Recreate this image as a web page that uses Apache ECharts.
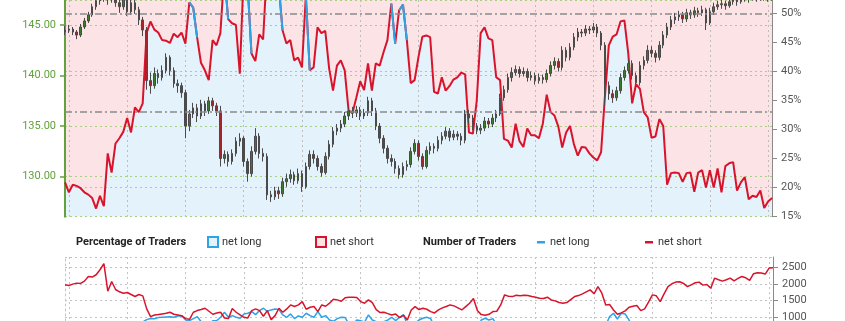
<!DOCTYPE html>
<html><head><meta charset="utf-8">
<script src="https://cdn.jsdelivr.net/npm/echarts@6/dist/echarts.min.js"></script>
<style>html,body{margin:0;padding:0;background:#fff}#c{width:845px;height:321px}</style>
</head><body><div id="c"></div>
<script>
// price candles: [open, close, low, high]
const priceOHLC = [
[144.3,144.5,144.0,144.9],[144.5,144.6,144.2,145.0],[144.6,144.3,144.0,144.8],[144.3,144.0,143.6,144.5],[144.0,144.8,143.8,145.1],
[144.8,145.4,144.6,145.7],[145.4,146.0,145.2,146.3],[146.0,146.8,145.8,147.1],[146.8,147.4,146.5,147.8],[147.4,147.8,147.0,148.3],
[147.8,148.0,147.3,148.4],[148.0,147.5,147.0,148.3],[147.5,148.0,147.2,148.4],[148.0,147.2,146.8,148.2],[147.2,146.8,146.2,147.5],
[146.8,147.5,146.5,147.9],[147.5,146.3,145.9,147.7],[146.3,147.2,146.0,147.6],[147.2,146.5,146.1,147.5],[146.5,145.5,145.0,146.8],
[145.5,144.5,143.9,145.8],[144.5,139.5,138.6,144.8],[139.5,139.0,138.2,140.3],[139.0,140.2,138.7,140.8],[140.2,139.8,139.2,140.6],
[139.8,140.5,139.5,141.0],[140.5,141.8,140.2,142.2],[141.8,140.5,140.0,142.0],[140.5,139.2,138.8,140.8],[139.2,139.0,138.3,139.6],
[139.0,138.3,137.8,139.3],[138.3,135.0,133.8,138.6],[135.0,136.2,134.5,136.6],[136.2,136.8,135.8,137.3],[136.8,136.0,135.4,137.2],
[136.0,137.2,135.7,137.6],[137.2,136.5,136.0,137.5],[136.5,137.5,136.2,137.9],[137.5,137.0,136.5,137.8],[137.0,136.5,136.0,137.3],
[136.5,131.8,131.0,137.0],[131.8,132.2,131.3,132.6],[132.2,131.5,131.0,132.5],[131.5,132.3,131.2,132.7],[132.3,133.5,132.0,133.9],
[133.5,133.8,133.0,134.3],[133.8,131.5,131.0,134.0],[131.5,130.3,129.5,131.8],[130.3,132.5,130.0,133.0],[132.5,134.0,132.2,134.8],
[134.0,132.3,131.8,134.3],[132.3,132.0,131.5,132.8],[132.0,128.2,127.7,132.3],[128.2,128.0,127.5,128.6],[128.0,128.6,127.7,129.0],
[128.6,128.3,127.8,129.0],[128.3,129.5,128.0,129.9],[129.5,129.8,129.0,130.3],[129.8,130.2,129.4,130.7],[130.2,129.6,129.2,130.5],
[129.6,130.3,129.3,130.8],[130.3,129.0,128.5,130.6],[129.0,131.0,128.8,131.4],[131.0,132.2,130.7,132.6],[132.2,131.8,131.3,132.6],
[131.8,131.0,130.6,132.1],[131.0,130.4,130.0,131.3],[130.4,132.0,130.2,132.4],[132.0,133.2,131.7,133.6],[133.2,134.5,132.9,134.9],
[134.5,134.8,134.1,135.2],[134.8,135.2,134.4,135.6],[135.2,136.0,134.9,136.4],[136.0,136.5,135.6,136.9],[136.5,136.3,135.8,136.9],
[136.3,136.6,135.9,137.0],[136.6,136.0,135.6,136.9],[136.0,136.3,135.7,136.7],[136.3,137.5,136.0,137.9],[137.5,136.5,136.0,137.8],
[136.5,135.0,134.6,136.8],[135.0,133.8,133.3,135.3],[133.8,132.8,132.3,134.1],[132.8,131.8,131.3,133.1],[131.8,131.5,131.0,132.2],
[131.5,130.8,130.3,131.8],[130.8,130.2,129.8,131.1],[130.2,131.0,129.9,131.4],[131.0,131.2,130.6,131.6],[131.2,132.5,130.9,132.9],
[132.5,133.3,132.2,133.7],[133.3,132.0,131.6,133.6],[132.0,131.0,130.7,132.3],[131.0,132.6,130.8,133.0],[132.6,133.0,132.2,133.4],
[133.0,132.8,132.3,133.3],[132.8,133.6,132.5,134.0],[133.6,134.0,133.2,134.4],[134.0,134.5,133.7,134.9],[134.5,133.9,133.5,134.8],
[133.9,134.2,133.6,134.6],[134.2,134.0,133.6,134.5],[134.0,133.6,133.1,134.3],[133.6,136.2,133.3,136.6],[136.2,135.8,135.3,136.6],
[135.8,135.0,134.6,136.1],[135.0,134.6,134.2,135.3],[134.6,134.8,134.2,135.2],[134.8,135.5,134.5,135.9],[135.5,135.2,134.8,135.8],
[135.2,135.8,134.9,136.2],[135.8,136.2,135.4,136.6],[136.2,137.8,136.0,138.2],[137.8,138.6,137.5,139.0],[138.6,139.8,138.3,140.2],
[139.8,140.3,139.4,140.8],[140.3,140.6,140.0,141.0],[140.6,140.2,139.8,140.9],[140.2,140.4,139.9,140.8],[140.4,139.8,139.4,140.7],
[139.8,140.0,139.5,140.4],[140.0,139.5,139.1,140.3],[139.5,139.8,139.2,140.2],[139.8,139.6,139.2,140.1],[139.6,140.2,139.3,140.6],
[140.2,141.0,139.9,141.4],[141.0,141.4,140.6,141.8],[141.4,140.8,140.4,141.7],[140.8,142.5,140.5,142.9],[142.5,141.8,141.4,142.8],
[141.8,142.8,141.5,143.2],[142.8,143.8,142.5,144.2],[143.8,144.3,143.4,144.7],[144.3,144.2,143.8,144.6],[144.2,144.6,143.9,145.0],
[144.6,144.5,144.1,144.9],[144.5,144.8,144.2,145.2],[144.8,144.2,143.8,145.1],[144.2,143.0,142.5,144.4],[143.0,139.0,137.0,143.3],
[139.0,138.2,137.6,139.4],[138.2,137.8,137.3,138.6],[137.8,138.5,137.5,138.9],[138.5,139.8,138.2,140.2],[139.8,140.5,139.5,140.9],
[140.5,141.2,140.2,141.6],[141.2,140.0,139.6,141.5],[140.0,139.3,138.6,140.3],[139.3,141.0,139.0,141.4],[141.0,141.5,140.6,141.9],
[141.5,142.5,141.2,143.0],[142.5,142.2,141.8,142.9],[142.2,141.8,141.3,142.5],[141.8,143.0,141.5,143.4],[143.0,144.0,142.7,144.4],
[144.0,144.8,143.7,145.2],[144.8,145.5,144.5,145.9],[145.5,145.8,145.1,146.2],[145.8,146.0,145.4,146.4],[146.0,145.6,145.2,146.3],
[145.6,146.2,145.3,146.6],[146.2,146.0,145.6,146.5],[146.0,146.4,145.7,146.8],[146.4,146.2,145.8,146.7],[146.2,146.5,145.9,146.9],
[146.5,145.2,144.5,146.7],[145.2,146.3,145.0,146.7],[146.3,146.8,146.0,147.2],[146.8,147.0,146.5,147.4],[147.0,147.1,146.6,147.5],
[147.1,146.9,146.5,147.4],[146.9,147.3,146.7,147.7],[147.3,147.5,147.0,147.9],[147.5,147.3,146.9,147.8],[147.3,147.6,147.1,148.0],
[147.6,147.8,147.3,148.2],[147.8,147.6,147.2,148.1],[147.6,147.9,147.4,148.3],[147.9,147.7,147.3,148.2],[147.7,148.0,147.4,148.4],
[148.0,147.8,147.4,148.3],[147.8,147.6,147.3,148.1],[147.6,147.9,147.4,148.3]
];
// percentage of traders net long (%)
const pctLong = [
20.9,19.2,20.5,20.3,19.9,19.2,18.8,18.2,16.4,18.6,16.8,25.9,22.6,27.6,28.5,29.6,32.0,29.5,33.8,33.0,
34.5,46.6,48.6,47.2,46.7,45.4,45.3,44.9,46.5,45.9,46.7,44.8,51.9,51.0,45.9,41.5,40.2,38.5,45.4,44.5,
46.6,57.0,49.0,48.3,48.0,39.6,57.0,55.0,43.1,41.8,46.4,45.5,58.0,57.0,57.0,55.0,47.1,44.8,45.4,41.9,
42.4,40.7,53.0,40.2,40.7,47.6,46.6,47.0,40.5,36.7,41.0,41.9,40.2,33.3,32.8,35.5,38.3,36.8,41.4,36.7,
41.4,41.0,43.3,45.4,51.7,44.8,50.5,51.5,45.4,38.0,38.5,42.5,46.0,46.2,45.9,36.5,36.2,39.0,36.7,37.5,
38.6,39.0,39.8,39.5,29.5,29.3,35.0,46.6,47.6,45.7,45.4,39.0,38.5,28.4,28.1,26.9,31.0,28.0,27.0,30.2,
29.0,29.0,28.5,31.0,36.0,33.0,32.4,30.5,26.9,29.5,30.6,27.5,25.5,27.0,26.9,25.9,25.2,24.7,26.1,35.8,
44.5,46.0,46.4,48.6,48.8,43.1,34.5,37.8,37.0,33.0,32.1,28.6,28.8,31.8,30.6,20.5,22.5,22.6,22.5,21.0,
22.5,22.6,19.3,22.6,23.0,20.0,23.0,20.0,23.3,19.2,23.7,24.2,24.4,19.5,20.9,21.8,18.0,18.6,18.4,19.5,
16.5,17.6,18.2
];
// number of traders
const tradersLong = [
520,470,500,510,500,490,510,490,450,560,510,620,600,700,700,720,820,700,830,830,
860,930,965,955,990,1000,1010,1018,1000,1040,1048,920,900,960,1018,870,850,740,900,900,
1000,1150,1000,1050,1000,970,1100,1120,1170,1080,1200,1270,1180,1220,1250,1230,1069,1000,1100,960,
1040,1000,1120,1050,1000,1170,1000,1050,918,880,960,1000,990,800,780,918,900,850,1069,918,
870,800,870,920,1000,900,1000,1080,780,750,820,920,970,1000,960,700,690,820,760,820,
850,840,810,860,590,650,650,918,970,920,960,760,850,660,640,600,730,640,610,710,
660,650,630,700,870,760,710,630,520,600,680,610,560,630,650,640,570,620,610,760,
1018,1120,950,1120,1100,918,700,810,700,620,690,670,660,690,750,500,580,600,600,530,
560,580,490,590,590,500,560,540,640,490,660,700,680,510,590,600,460,530,520,560,
460,530,550
];
const tradersShort = [
1969,1950,1990,2020,2010,2080,2218,2200,2270,2420,2600,1780,2068,1830,1760,1720,1740,1680,1620,1680,
1640,1250,1020,1070,1080,1100,1120,1150,1090,1070,1048,960,940,1150,1200,1230,1270,1180,1090,1130,
1150,980,960,1260,1150,1069,1000,980,1200,1250,1200,1030,1200,930,1050,1270,1150,1250,1369,1320,
1369,1469,1240,1300,1320,1170,1369,1330,1420,1540,1520,1480,1580,1600,1600,1590,1469,1420,1519,1440,
1230,1140,1150,1110,1069,1100,990,1060,920,1219,1320,1230,1270,1240,1170,1130,1220,1280,1320,1369,
1340,1280,1219,1320,1420,1560,1200,1080,1060,1090,1170,1180,1369,1669,1630,1618,1660,1640,1660,1650,
1620,1600,1570,1560,1600,1519,1490,1440,1420,1440,1530,1618,1648,1700,1760,1819,1700,1918,1720,1369,
1380,1219,1090,1130,1190,1300,1330,1350,1200,1250,1450,1669,1640,1469,1700,1918,2000,2050,2060,2010,
1918,1969,2030,2050,1960,1980,1870,2170,2120,2080,2120,2170,2090,2160,2218,2180,2100,2300,2330,2320,
2290,2470,2480
];
// reference levels (dash-dot) on percentage axis
const refLevels = [50, 33];

const FONT = "'Roboto', sans-serif";
const N = pctLong.length;
const categories = pctLong.map((_, i) => String(i));
const pctShort = pctLong.map(v => Math.round((100 - v) * 10) / 10);
// net long above 50%: segments that start there are drawn blue
const blueA = new Array(N).fill(null), blueB = new Array(N).fill(null);
let run = 0;
for (let i = 0; i < N; i++) {
  if (pctLong[i] > 50 && (i === 0 || pctLong[i - 1] <= 50)) {
    const t = run % 2 === 0 ? blueA : blueB; run++;
    let j = i;
    while (j < N && pctLong[j] > 50) { t[j] = pctLong[j]; j++; }
    if (j < N) t[j] = pctLong[j];
  }
}
const gridLineAt = (idx) => (idx - 1) % 15 === 0;
const GREEN = '#62a13b', BLUE = '#2ea3e6', RED = '#d8142c';

const chart = echarts.init(document.getElementById('c'));
chart.setOption({
  animation: false,
  backgroundColor: '#fff',
  textStyle: { fontFamily: FONT },
  grid: [
    { left: 65, right: 73, top: 0, height: 216.7, outerBoundsMode: 'none', containLabel: false },
    { left: 65, right: 72, top: 257, bottom: 0, outerBoundsMode: 'none', containLabel: false }
  ],
  xAxis: [
    { type: 'category', gridIndex: 0, data: categories, boundaryGap: false, z: 1.5,
      axisLine: { show: false }, axisTick: { show: false }, axisLabel: { show: false },
      splitLine: { show: true, interval: gridLineAt, lineStyle: { color: '#bdbdbd', type: [2, 3], width: 1 } } },
    { type: 'category', gridIndex: 1, data: categories, boundaryGap: false, z: 1.5,
      axisLine: { show: false }, axisTick: { show: false }, axisLabel: { show: false },
      splitLine: { show: true, interval: gridLineAt, lineStyle: { color: '#c4c4c4', type: [2, 3], width: 1 } } }
  ],
  yAxis: [
    { type: 'value', gridIndex: 0, position: 'left', min: 126.04, max: 147.47, splitNumber: 4, z: 1.6,
      axisLine: { show: true, lineStyle: { color: GREEN, width: 2 } },
      axisTick: { show: true, length: 5, lineStyle: { color: GREEN, width: 1.5 } },
      axisLabel: { color: GREEN, fontSize: 11, fontFamily: FONT, margin: 9, showMinLabel: false, showMaxLabel: false,
        formatter: v => v.toFixed(2) },
      splitLine: { show: true, lineStyle: { color: '#a9cf80', type: [2, 3], width: 1 } } },
    { type: 'value', gridIndex: 0, position: 'right', min: 15, max: 52.3, splitNumber: 7, z: 1.6,
      axisLine: { show: true, lineStyle: { color: '#8a8a8a', width: 1 } },
      axisTick: { show: true, length: 5, lineStyle: { color: '#8a8a8a' } },
      axisLabel: { color: '#555', fontSize: 11, fontFamily: FONT, margin: 9, showMaxLabel: false, formatter: '{value}%' },
      splitLine: { show: false } },
    { type: 'value', gridIndex: 0, position: 'right', min: 15, max: 52.3, splitNumber: 2, z: 1.5,
      axisLine: { show: false }, axisTick: { show: false }, axisLabel: { show: false },
      splitLine: { show: true, lineStyle: { color: '#bdbdbd', type: [2, 3], width: 1 } } },
    { type: 'value', gridIndex: 1, position: 'right', min: 889, max: 2800, splitNumber: 4, z: 1.6,
      axisLine: { show: true, lineStyle: { color: '#8a8a8a', width: 1 } },
      axisTick: { show: true, length: 5, lineStyle: { color: '#8a8a8a' } },
      axisLabel: { color: '#555', fontSize: 11, fontFamily: FONT, margin: 9, showMinLabel: false, showMaxLabel: false,
        formatter: v => String(v) },
      splitLine: { show: true, lineStyle: { color: '#c4c4c4', type: [2, 3], width: 1 } } },
    { type: 'value', gridIndex: 1, position: 'left', min: 889, max: 2800, z: 1.6,
      axisLine: { show: true, lineStyle: { color: '#c4c4c4', type: [2, 3], width: 1 } },
      axisTick: { show: false }, axisLabel: { show: false }, splitLine: { show: false } }
  ],
  series: [
    { name: 'net long', type: 'line', xAxisIndex: 0, yAxisIndex: 1, data: pctLong, stack: 'pct', z: 1,
      symbol: 'none', lineStyle: { width: 0 }, areaStyle: { color: '#e4f2fb', opacity: 1 }, silent: true },
    { name: 'net short', type: 'line', xAxisIndex: 0, yAxisIndex: 1, data: pctShort, stack: 'pct', z: 1,
      symbol: 'none', lineStyle: { width: 0 }, areaStyle: { color: '#fce3e5', opacity: 1 }, silent: true },
    { name: 'pct line', type: 'line', xAxisIndex: 0, yAxisIndex: 1, data: pctLong, z: 3,
      symbol: 'none', lineStyle: { color: RED, width: 2 },
      markLine: { silent: true, symbol: 'none', label: { show: false },
        lineStyle: { color: '#8a8a8a', width: 1.5, type: [7, 3, 2, 3] },
        data: refLevels.map(v => ({ yAxis: v })) } },
    { name: 'pct above a', type: 'line', xAxisIndex: 0, yAxisIndex: 1, data: blueA, z: 3.1,
      symbol: 'none', connectNulls: false, lineStyle: { color: BLUE, width: 2 } },
    { name: 'pct above b', type: 'line', xAxisIndex: 0, yAxisIndex: 1, data: blueB, z: 3.1,
      symbol: 'none', connectNulls: false, lineStyle: { color: BLUE, width: 2 } },
    { name: 'price', type: 'candlestick', xAxisIndex: 0, yAxisIndex: 0, data: priceOHLC, z: 4,
      barWidth: 2,
      itemStyle: { color: '#3f7a2c', color0: '#a8232a', borderColor: '#4a4a4a', borderColor0: '#4a4a4a', borderWidth: 1 } },
    { name: 'net long', type: 'line', xAxisIndex: 1, yAxisIndex: 3, data: tradersLong, z: 3,
      symbol: 'none', lineStyle: { color: BLUE, width: 1.5 } },
    { name: 'net short', type: 'line', xAxisIndex: 1, yAxisIndex: 3, data: tradersShort, z: 3.1,
      symbol: 'none', lineStyle: { color: RED, width: 1.5 } }
  ],
  graphic: [
    { type: 'text', x: 76, y: 242, style: { text: 'Percentage of Traders', font: "bold 11px " + FONT, fill: '#222', verticalAlign: 'middle' } },
    { type: 'rect', shape: { x: 208, y: 237, width: 10, height: 10 }, style: { fill: '#e4f2fb', stroke: BLUE, lineWidth: 2 } },
    { type: 'text', x: 222, y: 242, style: { text: 'net long', font: "11px " + FONT, fill: '#333', verticalAlign: 'middle' } },
    { type: 'rect', shape: { x: 316, y: 237, width: 10, height: 10 }, style: { fill: '#fce3e5', stroke: RED, lineWidth: 2 } },
    { type: 'text', x: 330, y: 242, style: { text: 'net short', font: "11px " + FONT, fill: '#333', verticalAlign: 'middle' } },
    { type: 'text', x: 423, y: 242, style: { text: 'Number of Traders', font: "bold 11px " + FONT, fill: '#222', verticalAlign: 'middle' } },
    { type: 'rect', shape: { x: 537, y: 241, width: 8, height: 2.5 }, style: { fill: BLUE } },
    { type: 'text', x: 550, y: 242, style: { text: 'net long', font: "11px " + FONT, fill: '#333', verticalAlign: 'middle' } },
    { type: 'rect', shape: { x: 645, y: 241, width: 8, height: 2.5 }, style: { fill: RED } },
    { type: 'text', x: 658, y: 242, style: { text: 'net short', font: "11px " + FONT, fill: '#333', verticalAlign: 'middle' } }
  ]
});
</script></body></html>
